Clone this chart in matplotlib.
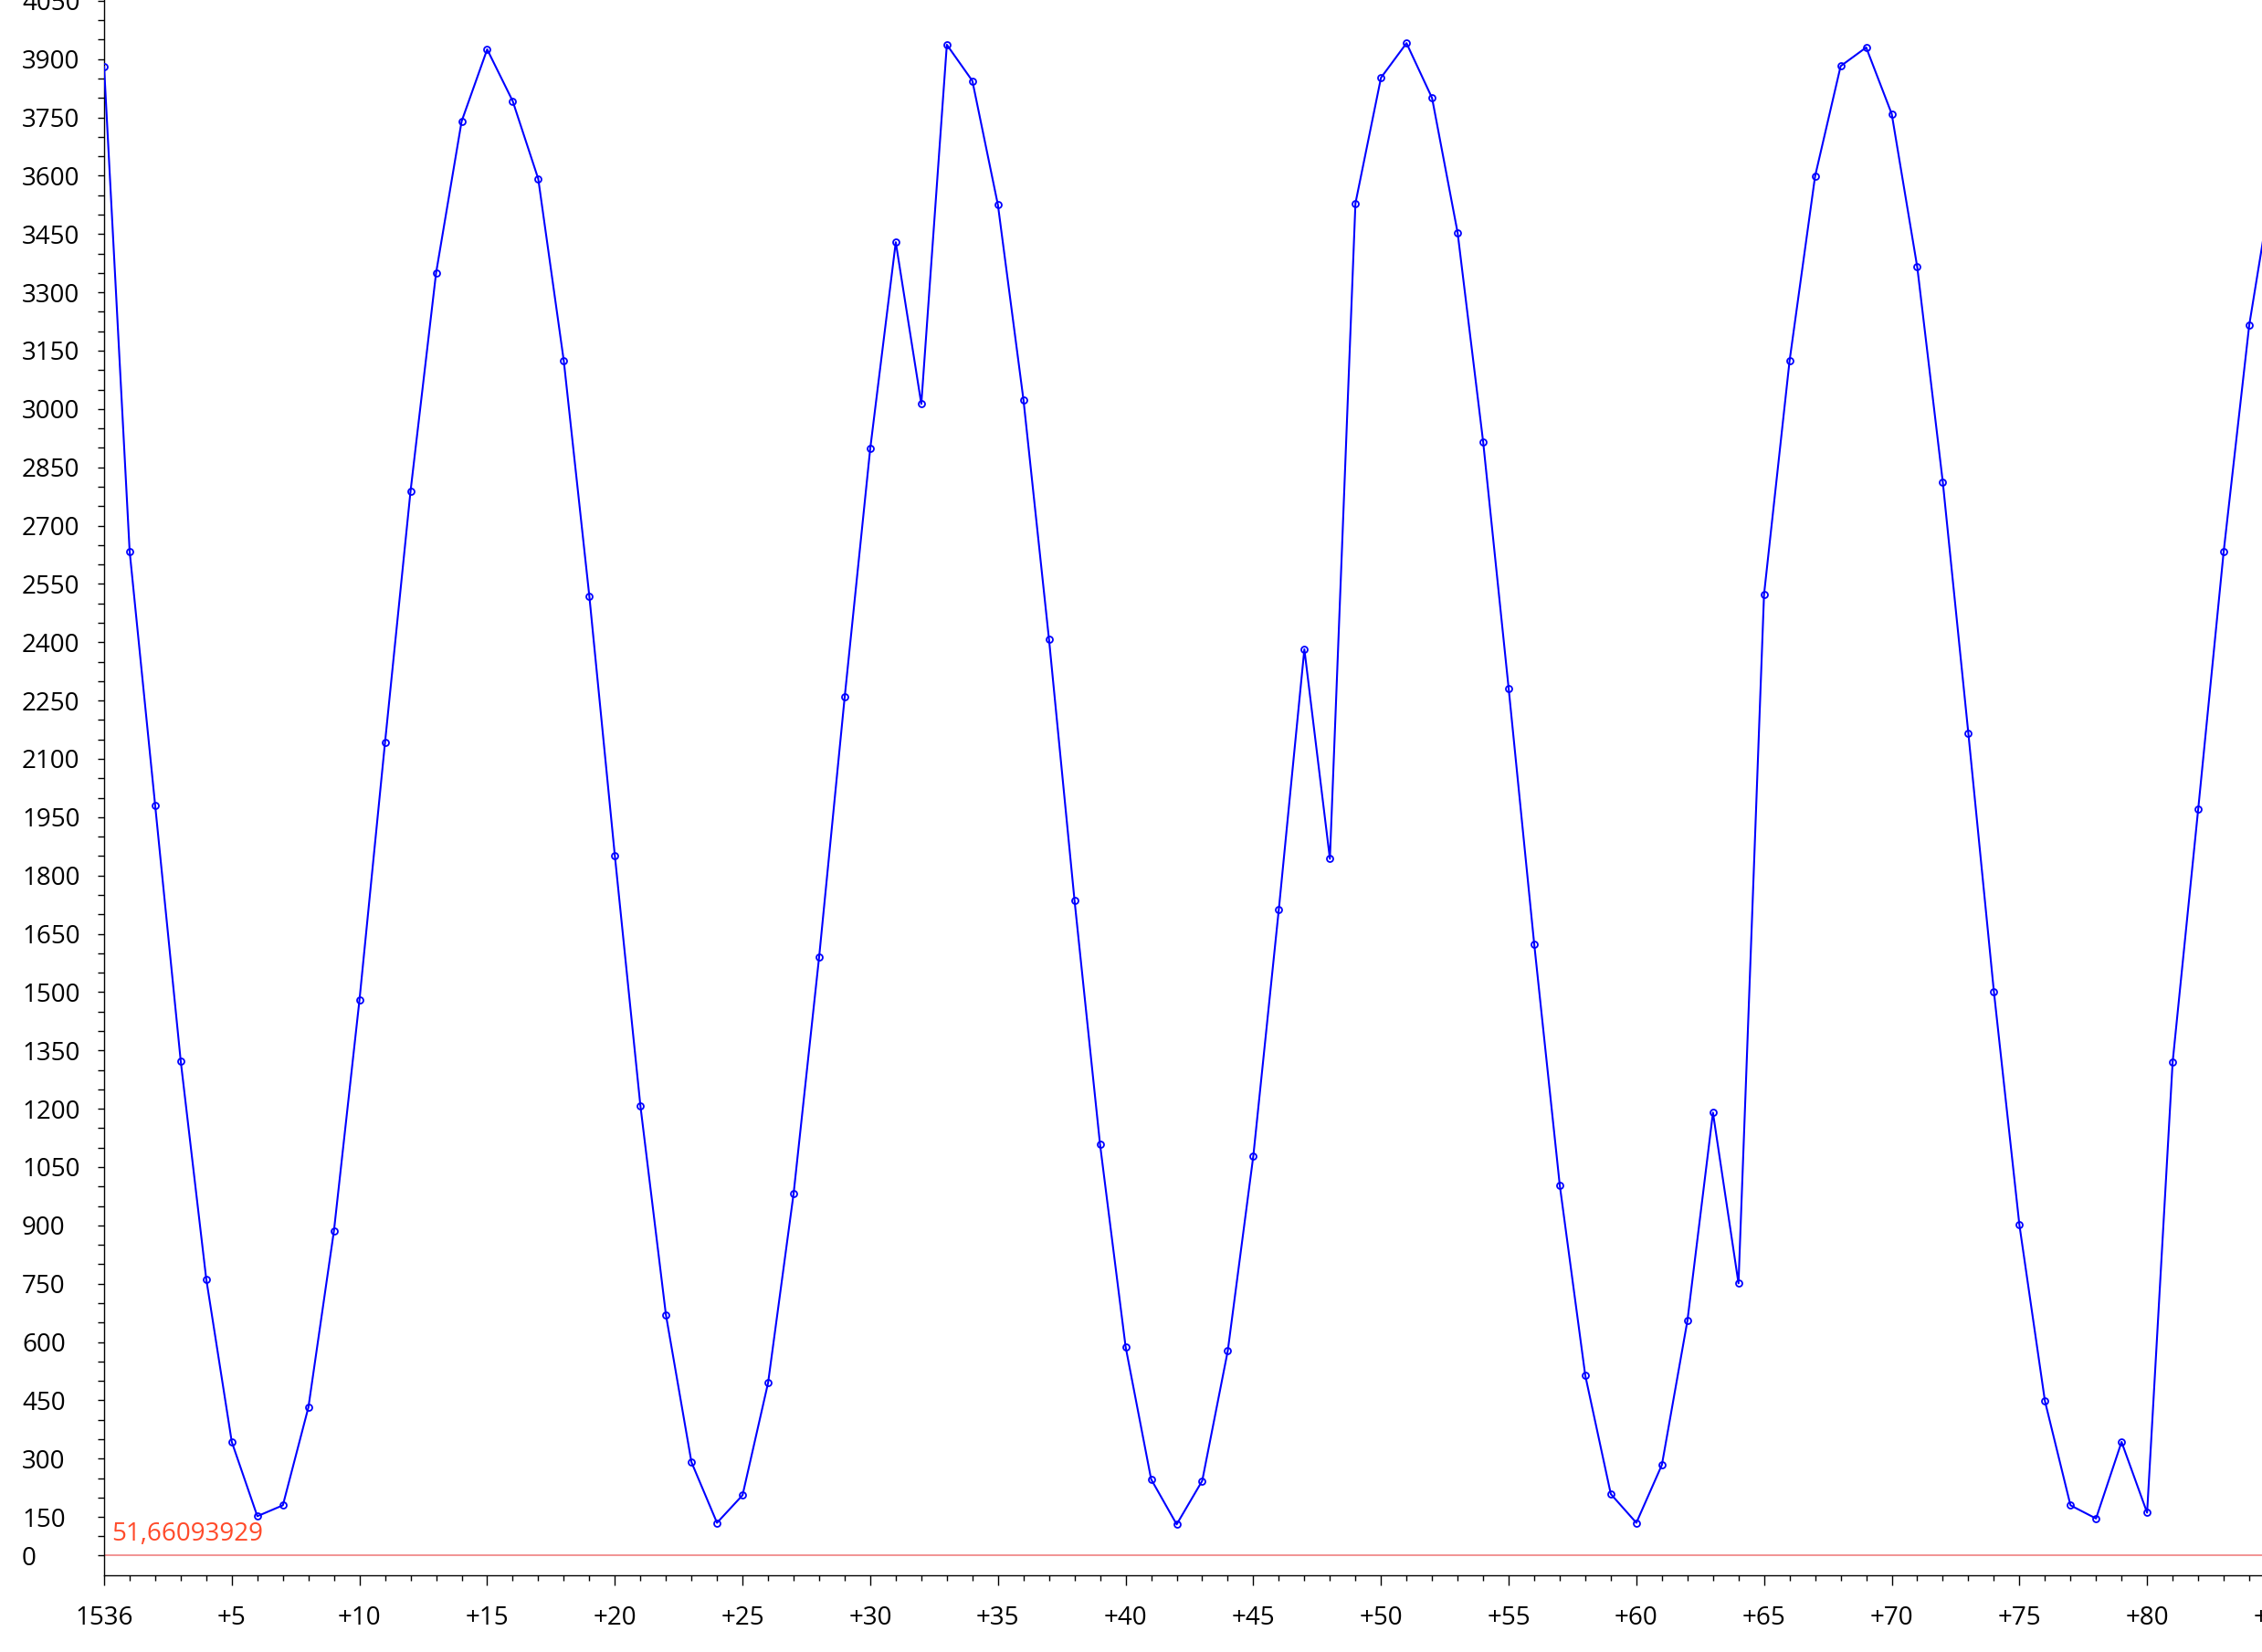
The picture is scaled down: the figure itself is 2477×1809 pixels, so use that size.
import numpy as np
import matplotlib
matplotlib.use("Agg")
import matplotlib.pyplot as plt

plt.rcParams['font.family'] = ['Open Sans', 'DejaVu Sans']

# data
x_start = 1536
values = [3880, 2634, 1980, 1323, 762, 343, 152, 180, 432, 886,
          1480, 2142, 2789, 3350, 3740, 3925, 3792, 3592, 3124, 2519,
          1851, 1208, 670, 291, 135, 206, 495, 982, 1591, 2259,
          2898, 3429, 3013, 3937, 3844, 3525, 3024, 2408, 1736, 1108,
          588, 247, 131, 243, 577, 1078, 1713, 2382, 1843, 3529,
          3852, 3941, 3800, 3454, 2916, 2281, 1624, 1004, 514, 209,
          135, 284, 655, 1190, 751, 2523, 3124, 3599, 3882, 3930,
          3759, 3365, 2812, 2166, 1502, 901, 448, 180, 146, 343,
          161, 1320, 1970, 2634, 3216, 3620]
threshold = 51.66093929
threshold_label = "51,66093929"
x_major = list(range(1536, 1622, 5))
x_labels = ["1536"] + ["+%d" % (t - 1536) for t in x_major[1:]]
y_major = [threshold] + list(range(150, 4051, 150))
y_labels = ["0"] + [str(v) for v in range(150, 4051, 150)]
y_minor = [v for v in range(100, 4051, 50) if v % 150 != 0]

xs = np.arange(len(values)) + x_start

fig = plt.figure(figsize=(24.77, 18.09), dpi=100)
ax = fig.add_axes([114 / 2477, 84 / 1809, 2377 / 2477, 1725 / 1809])

ax.axhline(threshold, color='#f08080', lw=1.2, zorder=1)
ax.plot(xs, values, color='#0000ff', lw=1.5, marker='o', ms=5,
        mfc='none', mec='#0000ff', mew=1.3, zorder=3)
ax.text(x_start + 0.29, 89, threshold_label, color='#ff4a2a',
        fontsize=20, va='baseline', ha='left')

ax.set_xlim(1536, 1621)
ax.set_ylim(0, 4052)

for s in ['top', 'right']:
    ax.spines[s].set_visible(False)
for s in ['left', 'bottom']:
    ax.spines[s].set_linewidth(1.0)

ax.set_xticks(x_major)
ax.set_xticklabels(x_labels)
ax.set_xticks(range(1536, 1622), minor=True)
ax.set_yticks(y_major)
ax.set_yticklabels(y_labels)
ax.set_yticks(y_minor, minor=True)

ax.tick_params(axis='x', which='major', length=8, width=1, labelsize=20, pad=16)
ax.tick_params(axis='x', which='minor', length=4.3, width=1)
ax.tick_params(axis='y', which='both', length=5, width=1)
ax.tick_params(axis='y', which='major', labelsize=20, pad=59.8)
for lab in ax.get_yticklabels():
    lab.set_horizontalalignment('left')

fig.savefig('out.png', dpi=100)
